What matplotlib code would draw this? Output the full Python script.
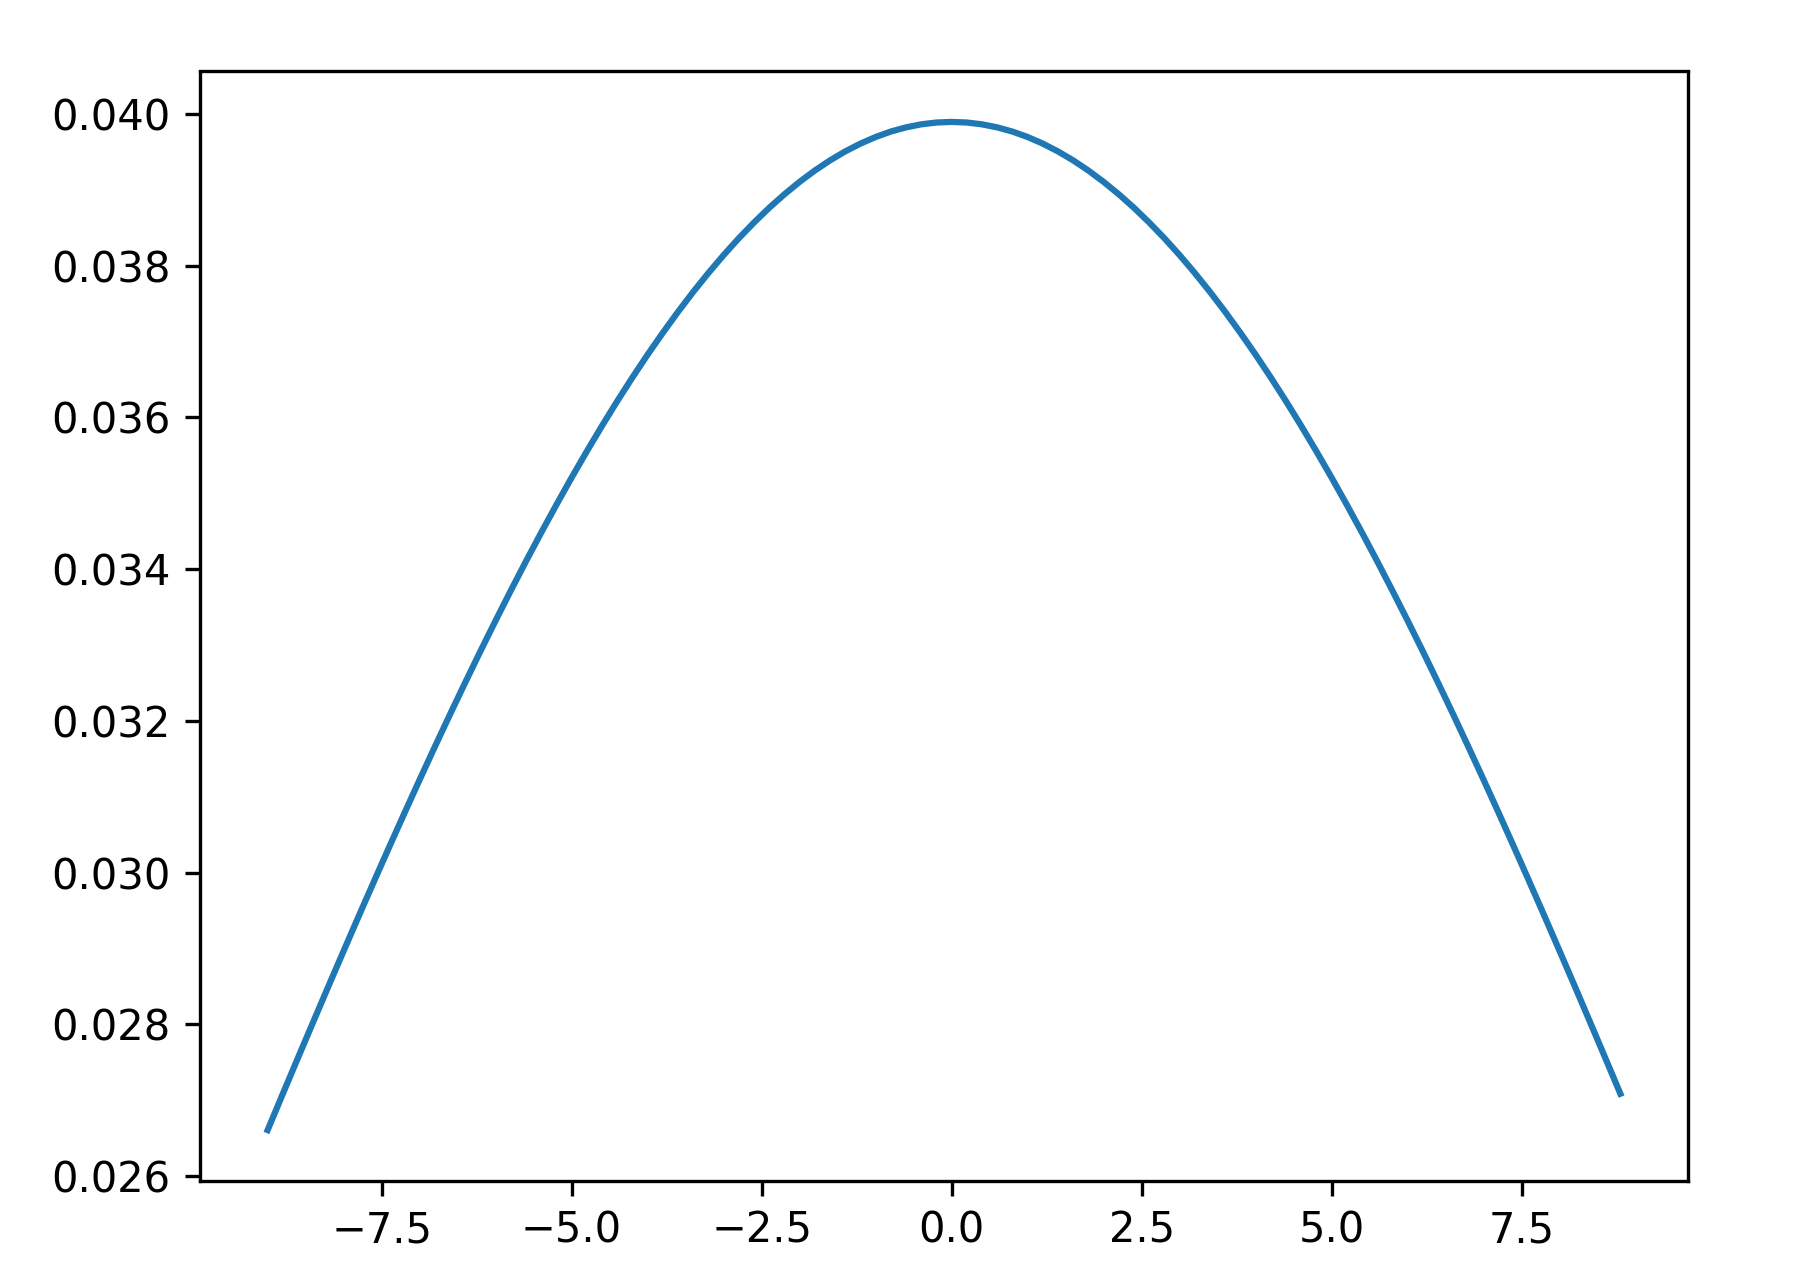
import matplotlib
matplotlib.use("Agg")
import matplotlib.pyplot as plt

# values
x = [-9.0, -8.8, -8.6, -8.4, -8.2, -8.0, -7.8, -7.6, -7.4, -7.2,
     -7.0, -6.8, -6.6, -6.4, -6.2, -6.0, -5.8, -5.6, -5.4, -5.2,
     -5.0, -4.8, -4.6, -4.4, -4.2, -4.0, -3.8, -3.6, -3.4, -3.2,
     -3.0, -2.8, -2.6, -2.4, -2.2, -2.0, -1.8, -1.6, -1.4, -1.2,
     -1.0, -0.8, -0.6, -0.4, -0.2, 0.0, 0.2, 0.4, 0.6, 0.8,
     1.0, 1.2, 1.4, 1.6, 1.8, 2.0, 2.2, 2.4, 2.6, 2.8,
     3.0, 3.2, 3.4, 3.6, 3.8, 4.0, 4.2, 4.4, 4.6, 4.8,
     5.0, 5.2, 5.4, 5.6, 5.8, 6.0, 6.2, 6.4, 6.6, 6.8,
     7.0, 7.2, 7.4, 7.6, 7.8, 8.0, 8.2, 8.4, 8.6, 8.8]

y = [0.026608, 0.027087, 0.027562, 0.028034, 0.028504, 0.028969, 0.029431, 0.029887, 0.030339, 0.030785,
     0.031225, 0.031659, 0.032087, 0.032506, 0.032919, 0.033323, 0.033718, 0.034105, 0.034482, 0.034849,
     0.035207, 0.035553, 0.035889, 0.036214, 0.036526, 0.036827, 0.037115, 0.037391, 0.037654, 0.037903,
     0.038139, 0.038361, 0.038568, 0.038762, 0.038940, 0.039104, 0.039253, 0.039387, 0.039505, 0.039608,
     0.039695, 0.039767, 0.039822, 0.039862, 0.039886, 0.039894, 0.039886, 0.039862, 0.039822, 0.039767,
     0.039695, 0.039608, 0.039505, 0.039387, 0.039253, 0.039104, 0.038940, 0.038762, 0.038568, 0.038361,
     0.038139, 0.037903, 0.037654, 0.037391, 0.037115, 0.036827, 0.036526, 0.036214, 0.035889, 0.035553,
     0.035207, 0.034849, 0.034482, 0.034105, 0.033718, 0.033323, 0.032919, 0.032506, 0.032087, 0.031659,
     0.031225, 0.030785, 0.030339, 0.029887, 0.029431, 0.028969, 0.028504, 0.028034, 0.027562, 0.027087]

dpi = 300
W, H = 1798, 1265
fig = plt.figure(figsize=(W / dpi, H / dpi), dpi=dpi)
ax = fig.add_axes([200 / W, 84.5 / H, 1488 / W, 1109 / H])

ax.plot(x, y)

fig.savefig("out.png", dpi=dpi)
